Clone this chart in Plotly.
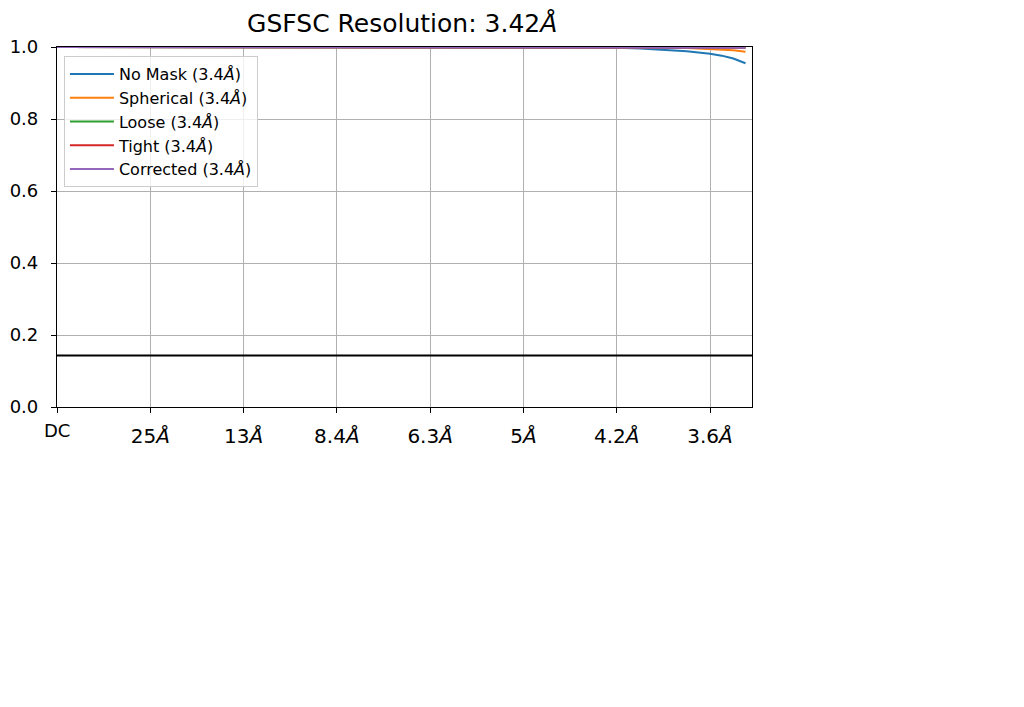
import plotly.graph_objects as go

# spatial frequency (1/A) and FSC curves
freq = [0.0, 0.02, 0.04, 0.06, 0.08, 0.10, 0.12, 0.14, 0.16, 0.18, 0.20,
        0.22, 0.24, 0.25, 0.26, 0.27, 0.28, 0.285, 0.29, 0.2952]
fsc_nomask = [1.0, 1.0, 1.0, 1.0, 1.0, 1.0, 1.0, 1.0, 0.9999, 0.9998, 0.9995,
              0.999, 0.998, 0.996, 0.993, 0.988, 0.981, 0.976, 0.968, 0.955]
fsc_spherical = [1.0, 1.0, 1.0, 1.0, 1.0, 1.0, 1.0, 1.0, 1.0, 0.9999, 0.9998,
                 0.9996, 0.9993, 0.999, 0.998, 0.997, 0.995, 0.993, 0.991, 0.987]
fsc_loose = [1.0, 1.0, 1.0, 1.0, 1.0, 1.0, 1.0, 1.0, 1.0, 1.0, 1.0,
             0.9999, 0.9998, 0.9997, 0.9995, 0.9993, 0.999, 0.9985, 0.998, 0.997]
fsc_tight = [1.0, 1.0, 1.0, 1.0, 1.0, 1.0, 1.0, 1.0, 1.0, 1.0, 1.0,
             1.0, 0.9999, 0.9998, 0.9997, 0.9995, 0.9993, 0.999, 0.9987, 0.998]
fsc_corrected = [1.0, 1.0, 1.0, 1.0, 1.0, 1.0, 1.0, 1.0, 1.0, 1.0, 1.0,
                 1.0, 0.9999, 0.9998, 0.9997, 0.9995, 0.9993, 0.999, 0.9987, 0.998]

names = ["No Mask", "Spherical", "Loose", "Tight", "Corrected"]
res_labels = ["3.4", "3.4", "3.4", "3.4", "3.4"]
colors = ["#1f77b4", "#ff7f0e", "#2ca02c", "#d62728", "#9467bd"]

tick_freq = [0.0, 0.04, 0.08, 0.12, 0.16, 0.20, 0.24, 0.28]
tick_text = ["", "25<i>Å</i>", "13<i>Å</i>", "8.4<i>Å</i>", "6.3<i>Å</i>",
             "5<i>Å</i>", "4.2<i>Å</i>", "3.6<i>Å</i>"]
dc_label = "DC"
x_max = 0.298
threshold = 0.143
resolution = "3.42"

fig = go.Figure()

curves = [fsc_nomask, fsc_spherical, fsc_loose, fsc_tight, fsc_corrected]
for name, res, col, ys in zip(names, res_labels, colors, curves):
    fig.add_trace(go.Scatter(
        x=freq, y=ys, mode="lines",
        name=f"{name} ({res}<i>Å</i>)",
        line=dict(color=col, width=2),
    ))

# 0.143 cutoff line
fig.add_trace(go.Scatter(
    x=[0, x_max], y=[threshold, threshold], mode="lines",
    line=dict(color="black", width=2.2), showlegend=False, hoverinfo="skip",
))

axis_common = dict(
    showline=True, linecolor="black", linewidth=1.2, mirror=True,
    ticks="outside", ticklen=5, tickwidth=1.2, tickcolor="black",
    showgrid=True, gridcolor="#b0b0b0", gridwidth=1, zeroline=False,
    automargin=False,
)

fig.update_xaxes(range=[0, x_max], tickvals=tick_freq, ticktext=tick_text,
                 tickfont=dict(family="DejaVu Sans", size=20, color="black"),
                 ticklabelstandoff=6, **axis_common)
fig.update_yaxes(range=[0, 1], tickvals=[0, 0.2, 0.4, 0.6, 0.8, 1.0],
                 tickformat=".1f", ticklabelstandoff=9,
                 tickfont=dict(family="DejaVu Sans", size=18, color="black"),
                 **axis_common)

# DC label sits a little higher than the others, as in the original
fig.add_annotation(x=0, y=0, xref="x", yref="y", text=dc_label, showarrow=False,
                   xanchor="center", yanchor="top", yshift=-11,
                   font=dict(family="DejaVu Sans", size=18, color="black"))

fig.update_layout(
    width=1024, height=707,
    margin=dict(l=49, r=280, t=39, b=308),
    paper_bgcolor="white", plot_bgcolor="white",
    title=dict(text=f"GSFSC Resolution: {resolution}<i>Å</i>", x=0.385, xanchor="center",
               y=0.979, yanchor="middle",
               font=dict(family="DejaVu Sans", size=25, color="black")),
    font=dict(family="DejaVu Sans", color="black"),
    legend=dict(x=0.01, y=0.975, xanchor="left", yanchor="top",
                bgcolor="rgba(255,255,255,0.8)", bordercolor="#cccccc", borderwidth=1,
                itemwidth=44,
                font=dict(family="DejaVu Sans", size=16, color="black")),
    showlegend=True,
)

fig.write_html("out.html")
